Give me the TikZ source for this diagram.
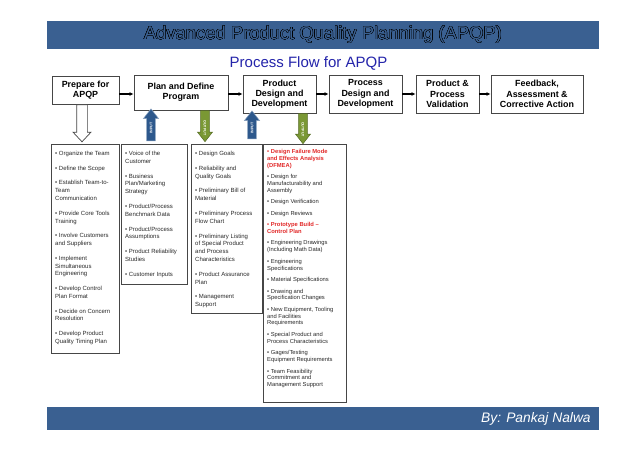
\documentclass[tikz,border=0pt]{standalone}
\usepackage{fontspec}
\setmainfont{Liberation Sans}
\usepackage{contour}
\contourlength{0.3pt}
\usetikzlibrary{shapes.arrows,arrows.meta,positioning}

\definecolor{bannerblue}{RGB}{58,96,145}
\definecolor{flowblue}{RGB}{36,36,170}
\definecolor{inblue}{RGB}{45,88,140}
\definecolor{outgreen}{RGB}{122,152,52}
\definecolor{boxline}{RGB}{70,70,70}
\definecolor{listgray}{RGB}{40,40,40}
\definecolor{keyred}{RGB}{225,40,40}

\tikzset{
  banner/.style = {fill=bannerblue, inner sep=0pt},
  stagebox/.style = {draw=boxline, line width=0.9pt, align=center, inner sep=0pt,
    font=\fontsize{8.9}{10.3}\selectfont\bfseries},
  listbox/.style = {draw=boxline, line width=0.8pt, anchor=north west, inner sep=0pt},
  listtext/.style = {anchor=north west, align=left, inner sep=0pt, text=listgray,
    font=\fontsize{6}{7.8}\selectfont},
  smalltext/.style = {listtext, font=\fontsize{5.8}{6.8}\selectfont},
  flowarrow/.style = {line width=1.1pt, -{Latex[length=4pt,width=4pt]}},
  fatarrow/.style = {single arrow, single arrow head extend=3.2pt,
    single arrow tip angle=76, text height=2.6pt, text depth=0pt,
    inner ysep=2.8pt, inner xsep=0.5pt, anchor=tip, text=white,
    font=\fontsize{3.6}{4}\selectfont\bfseries},
  inarrow/.style = {fatarrow, fill=inblue, draw=inblue!55!white, line width=0.5pt, rotate=90},
  outarrow/.style = {fatarrow, fill=outgreen, draw=outgreen!70!black, line width=0.5pt, rotate=-90},
  hollowarrow/.style = {fatarrow, inner ysep=3.7pt, single arrow head extend=3.6pt,
    single arrow tip angle=86, fill=white, draw=boxline, line width=0.7pt, rotate=-90}
}

\newcommand{\keyitem}[1]{\textcolor{keyred}{\bfseries #1}}

\begin{document}
\begin{tikzpicture}[x=1pt, y=-1pt]
  \useasboundingbox (0,0) rectangle (638,452);

  % banners and headings
  \node[banner, minimum width=552pt, minimum height=28pt] (topbanner) at (323,35)
    {\fontsize{18.4}{20}\selectfont\contour{black}{\textcolor{bannerblue}{Advanced Product Quality Planning (APQP)}}};
  \node[text=flowblue, font=\fontsize{15}{17}\selectfont] (flowtitle) at (308.5,63) {Process Flow for APQP};
  \node[banner, minimum width=552pt, minimum height=23pt] (footbanner) at (323,418.5) {};
  \node[anchor=east, text=white, font=\fontsize{13.8}{15}\selectfont\itshape] (byline)
    at ([xshift=-5pt]footbanner.east) {By: Pankaj Nalwa};

  % process stages
  \node[stagebox, minimum width=67pt, minimum height=28pt] (prep) at (85.5,90) {Prepare for\\APQP};
  \node[stagebox, minimum width=94pt, minimum height=35pt] (plan) at (181,92.5) {Plan and Define\\Program};
  \node[stagebox, minimum width=73pt, minimum height=38pt] (pdesign) at (279.5,94) {Product\\Design and\\Development};
  \node[stagebox, minimum width=73pt, minimum height=38pt] (prdesign) at (365.5,94) {Process\\Design and\\Development};
  \node[stagebox, minimum width=63pt, minimum height=38pt] (valid) at (447.5,94) {Product \&\\Process\\Validation};
  \node[stagebox, minimum width=92pt, minimum height=38pt] (feedback) at (537,94) {Feedback,\\Assessment \&\\Corrective Action};

  \coordinate (flowy) at (0,94);
  \draw[flowarrow] (prep.east |- flowy) -- (plan.west |- flowy);
  \draw[flowarrow] (plan.east |- flowy) -- (pdesign.west |- flowy);
  \draw[flowarrow] (pdesign.east |- flowy) -- (prdesign.west |- flowy);
  \draw[flowarrow] (prdesign.east |- flowy) -- (valid.west |- flowy);
  \draw[flowarrow] (valid.east |- flowy) -- (feedback.west |- flowy);

  % lists under the stages
  \node[listbox, minimum width=68pt, minimum height=209pt] (prepbox) at (51,144) {};
  \node[listbox, minimum width=66pt, minimum height=140pt] (planbox) at (121,144) {};
  \node[listbox, minimum width=71pt, minimum height=169pt] (outbox) at (191,144) {};
  \node[listbox, minimum width=83pt, minimum height=258pt] (designbox) at (263,144) {};

  \node[listtext] (preplist) at ([shift={(4,7)}]prepbox.north west)
    {• Organize the Team\\[6.9pt]
     • Define the Scope\\[6.9pt]
     • Establish Team-to-\\Team\\Communication\\[6.9pt]
     • Provide Core Tools\\Training\\[6.9pt]
     • Involve Customers\\and Suppliers\\[6.9pt]
     • Implement\\Simultaneous\\Engineering\\[6.9pt]
     • Develop Control\\Plan Format\\[6.9pt]
     • Decide on Concern\\Resolution\\[6.9pt]
     • Develop Product\\Quality Timing Plan};
  \node[listtext] (planlist) at ([shift={(4,7)}]planbox.north west)
    {• Voice of the\\Customer\\[7pt]
     • Business\\Plan/Marketing\\Strategy\\[7pt]
     • Product/Process\\Benchmark Data\\[7pt]
     • Product/Process\\Assumptions\\[7pt]
     • Product Reliability\\Studies\\[7pt]
     • Customer Inputs};
  \node[listtext] (outlist) at ([shift={(4,7)}]outbox.north west)
    {• Design Goals\\[7pt]
     • Reliability and\\Quality Goals\\[7pt]
     • Preliminary Bill of\\Material\\[7pt]
     • Preliminary Process\\Flow Chart\\[7pt]
     • Preliminary Listing\\of Special Product\\and Process\\Characteristics\\[7pt]
     • Product Assurance\\Plan\\[7pt]
     • Management\\Support};
  \node[smalltext] (designlist) at ([shift={(4,5)}]designbox.north west)
    {\keyitem{• Design Failure Mode}\\\keyitem{and Effects Analysis}\\\keyitem{(DFMEA)}\\[4.7pt]
     • Design for\\Manufacturability and\\Assembly\\[4.7pt]
     • Design Verification\\[4.7pt]
     • Design Reviews\\[4.7pt]
     \keyitem{• Prototype Build –}\\\keyitem{Control Plan}\\[4.7pt]
     • Engineering Drawings\\(Including Math Data)\\[4.7pt]
     • Engineering\\Specifications\\[4.7pt]
     • Material Specifications\\[4.7pt]
     • Drawing and\\Specification Changes\\[4.7pt]
     • New Equipment, Tooling\\and Facilities\\Requirements\\[4.7pt]
     • Special Product and\\Process Characteristics\\[4.7pt]
     • Gages/Testing\\Equipment Requirements\\[4.7pt]
     • Team Feasibility\\Commitment and\\Management Support};

  % input and output arrows
  \coordinate (hollowx) at (82,0);
  \coordinate (inAx) at (151,0);
  \coordinate (outAx) at (205,0);
  \coordinate (inBx) at (252,0);
  \coordinate (outBx) at (303,0);
  \node[hollowarrow, anchor=tail, minimum height=37pt] (prepdown) at (prep.south -| hollowx) {};
  \node[inarrow, minimum height=32pt] (inA) at ([yshift=2pt]plan.south -| inAx) {INPUT\hspace{9pt}};
  \node[outarrow, anchor=tail, minimum height=31pt] (outA) at (plan.south -| outAx) {\hspace{9pt}OUTPUT};
  \node[inarrow, minimum height=28pt] (inB) at ([yshift=3pt]pdesign.south -| inBx) {INPUT\hspace{7pt}};
  \node[outarrow, anchor=tail, minimum height=30pt] (outB) at (pdesign.south -| outBx) {\hspace{7pt}OUTPUT};
\end{tikzpicture}
\end{document}
